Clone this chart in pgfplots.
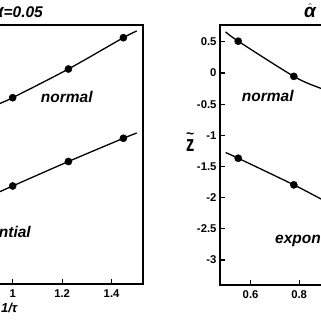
\documentclass[border=0pt]{standalone}
\usepackage{pgfplots}
\pgfplotsset{compat=1.18}
\usepackage{amsmath}
\usepackage{graphicx}
\usepackage{fontspec}
\setmainfont{Liberation Sans}
\newcommand\lbl{\bfseries\itshape\fontsize{15.5}{16}\selectfont}
\pgfplotsset{
  mystyle/.style={
    scale only axis,
    axis line style={line width=1.4pt},
    tick align=inside,
    xtick pos=left, ytick pos=left,
    major tick length=4.5pt,
    tick style={line width=1.2pt, black},
    ticklabel style={font=\bfseries\fontsize{11.3}{12}\selectfont},
    /pgf/number format/assume math mode=true,
    yticklabel style={/pgf/number format/fixed},
    xticklabel style={/pgf/number format/fixed, yshift=-2pt},
  },
  fitline/.style={black, line width=1.3pt, no marks, smooth},
  dots/.style={only marks, mark=*, mark size=3.6pt, black},
}
\begin{document}
\begin{tikzpicture}[trim left=0pt, trim right=320pt]
\path (0pt,0pt) rectangle (320pt,320pt);
% left panel
\begin{axis}[mystyle, anchor=south east, at={(143pt,36pt)}, width=254pt, height=259pt,
  xmin=0.5, xmax=1.527, ymin=36, ymax=295, xtick={0.6,0.8,1,1.2,1.4}, ytick=\empty]
\addplot[fitline] coordinates {(0.8,199) (0.949,216.5) (1,222.3) (1.2255,251) (1.4477,282.3) (1.502,289)};
\addplot[fitline] coordinates {(0.8,112) (0.949,128.4) (1,134) (1.2255,158.5) (1.4477,181.7) (1.502,187)};
\addplot[dots] coordinates {(1,222.3) (1.2255,251) (1.4477,282.3)};
\addplot[dots] coordinates {(1,134) (1.2255,158.5) (1.4477,181.7)};
\end{axis}
% right panel
\begin{axis}[mystyle, anchor=south west, at={(220pt,35pt)}, width=152pt, height=260pt,
  xmin=0.474, xmax=1.1, ymin=-3.4, ymax=0.77,
  xtick={0.6,0.8,1}, ytick={-3,-2.5,-2,-1.5,-1,-0.5,0,0.5}]
\addplot[fitline] coordinates {(0.497,0.66) (0.549,0.51) (0.778,-0.054) (0.885,-0.24) (1.0,-0.40)};
\addplot[fitline] coordinates {(0.497,-1.276) (0.549,-1.367) (0.778,-1.794) (0.885,-2.01) (1.0,-2.24)};
\addplot[dots] coordinates {(0.549,0.51) (0.778,-0.054)};
\addplot[dots] coordinates {(0.549,-1.367) (0.778,-1.794)};
\end{axis}
% texts
\node[anchor=base west, inner sep=0] at (40.7pt,217.3pt) {\lbl normal};
\node[anchor=base east, inner sep=0] at (31pt,82pt) {\lbl exponential};
\node[anchor=base west, inner sep=0] at (241.7pt,218.3pt) {\lbl normal};
\node[anchor=base west, inner sep=0] at (275pt,76.7pt) {\lbl exponential};
\node[anchor=base east, inner sep=0] at (43pt,302.7pt) {\bfseries\itshape\fontsize{15.5}{16}\selectfont $\hat{\text{\bfseries\itshape\fontsize{19}{19}\selectfont α}}$=0.05};
\node[anchor=base west, inner sep=0] at (304pt,302.7pt) {\bfseries\itshape\fontsize{15.5}{16}\selectfont $\hat{\text{\bfseries\itshape\fontsize{19}{19}\selectfont α}}$};
\node[inner sep=0] at (190.3pt,174pt) {\scalebox{1.1}[1.5]{\bfseries\fontsize{15}{15}\selectfont z}};
\node[inner sep=0] at (190.3pt,184.8pt) {\bfseries\fontsize{14}{14}\selectfont\textasciitilde};
\node[anchor=base east, inner sep=0] at (17.5pt,7pt) {\bfseries\itshape\fontsize{13}{13}\selectfont 1/τ};
\end{tikzpicture}
\end{document}
